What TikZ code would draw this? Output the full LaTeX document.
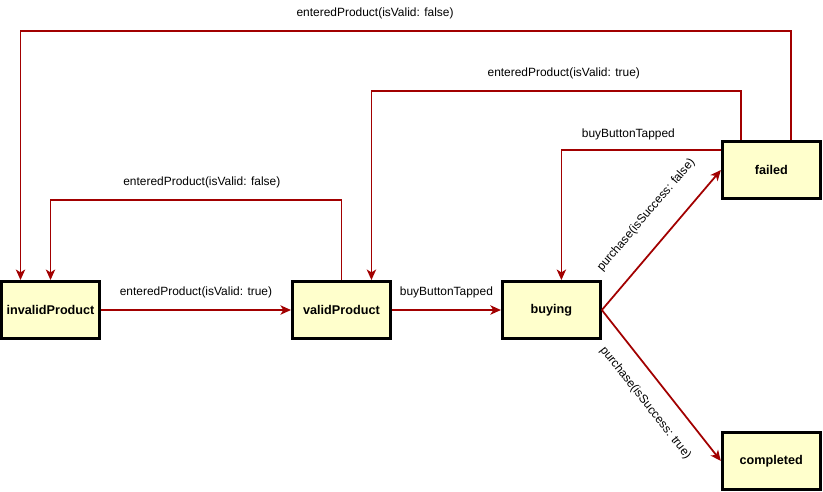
\documentclass[tikz,border=0pt]{standalone}
\usepackage{fontspec}
\setmainfont{Liberation Sans}
\usepackage{xcolor}
\usepackage{tikz}
\usetikzlibrary{arrows.meta,positioning}

\definecolor{stateyellow}{HTML}{FFFFCC}
\definecolor{transred}{HTML}{A20000}

\begin{document}
\begin{tikzpicture}[
   x=0.03cm, y=-0.03cm,
   state/.style={rectangle, draw=black, line width=2.5pt, fill=stateyellow,
                 minimum width=2.94cm, minimum height=1.71cm,
                 font=\bfseries\fontsize{10.8}{12}\selectfont},
   trans/.style={draw=transred, line width=1.5pt,
                 -{Stealth[length=9pt, width=8pt, inset=2.5pt]}},
   lbl/.style={font=\fontsize{10.2}{12}\selectfont, inner sep=1pt}
]
\useasboundingbox (0,0) rectangle (823,491);
% States
\node[state] (invalid) at (50.5,310) {invalidProduct};
\node[state, right=5.7cm of invalid] (valid) {validProduct};
\node[state, right=3.27cm of valid] (buying) {buying};
\node[state, above right=2.4cm and 3.57cm of buying] (failed) {failed};
\node[state, below right=2.73cm and 3.57cm of buying] (completed) {completed};

% Transitions along the row
\draw[trans] (invalid) -- node[lbl, above=0.3cm] {enteredProduct(isValid: true)} (valid);
\draw[trans] (valid) -- node[lbl, above=0.3cm] {buyButtonTapped} (buying);

% Purchase results
\draw[trans] (buying.east) -- node[lbl, sloped, above=0.6cm, pos=0.55] {purchase(isSuccess: false)} (failed.west);
\draw[trans] (buying.east) -- node[lbl, sloped, below=0.47cm, pos=0.52] {purchase(isSuccess: true)} (completed.west);

% Loops back
\draw[trans] (valid.north) -- ++(0,-80) -| node[lbl, above=0.3cm, pos=0.24] {enteredProduct(isValid: false)} (invalid.north);
\draw[trans] ([yshift=0.6cm]failed.west) -| node[lbl, above=0.25cm, pos=0.29] {buyButtonTapped} ([xshift=0.3cm]buying.north);
\draw[trans] ([xshift=-0.9cm]failed.north) -- ++(0,-49) -| node[lbl, above=0.3cm, pos=0.24] {enteredProduct(isValid: true)} ([xshift=0.9cm]valid.north);
\draw[trans] ([xshift=0.6cm]failed.north) -- ++(0,-109) -| node[lbl, above=0.3cm, pos=0.27] {enteredProduct(isValid: false)} ([xshift=-0.9cm]invalid.north);
\end{tikzpicture}
\end{document}
